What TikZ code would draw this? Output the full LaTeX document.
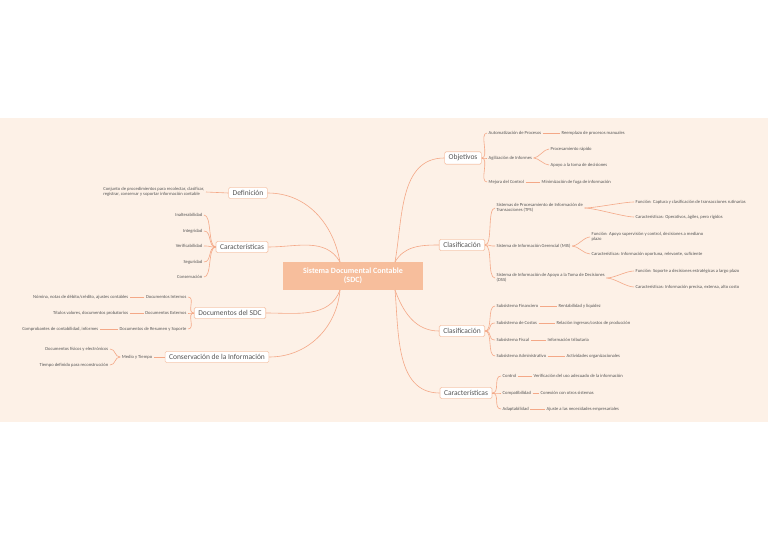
\documentclass[tikz,border=0pt]{standalone}
\usepackage{fontspec}
\setmainfont{Carlito}
\definecolor{band}{HTML}{FDF1E7}
\definecolor{ln}{HTML}{F4A887}
\definecolor{bd}{HTML}{F6C6AC}
\definecolor{ctr}{HTML}{F7BE9C}
\definecolor{tx}{HTML}{555555}
\tikzset{
 br/.style={draw=bd,fill=white,rounded corners=1.5pt,font=\fontsize{7.5}{8}\selectfont,text=tx,inner xsep=4pt,inner ysep=3pt,line width=0.6pt},
 lf/.style={font=\fontsize{4.6}{5.2}\selectfont,text=tx,inner sep=1.5pt,align=left},
 con/.style={draw=ln,line width=0.6pt},
}
\begin{document}
\begin{tikzpicture}[x=1pt,y=-1pt]
\useasboundingbox (0,0) rectangle (768,543);
\fill[white] (0,0) rectangle (768,543);
\fill[band] (0,118) rectangle (768,422);
\node[fill=ctr,text=white,font=\fontsize{8}{9}\selectfont\bfseries,align=center,minimum width=140,minimum height=28,inner sep=1pt] (c) at (353,276) {Sistema Documental Contable\\(SDC)};
% left branches
\node[br] (def) at (248,193) {Definición};
\node[br] (car) at (242,247) {Características};
\node[br] (doc) at (230,313) {Documentos del SDC};
\node[br] (con) at (217,357) {Conservación de la Información};
% right branches
\node[br] (obj) at (463,158) {Objetivos};
\node[br] (cl1) at (462,245) {Clasificación};
\node[br] (cl2) at (462,331) {Clasificación};
\node[br] (car2) at (466,393) {Características};
\coordinate (cl) at (340,262); \coordinate (clb) at (340,290);
\coordinate (cr) at (395,262); \coordinate (crb) at (395,290);
\draw[con] (cl) to[out=100,in=0] (def.east);
\draw[con] (cl) to[out=120,in=0] (car.east);
\draw[con] (clb) to[out=250,in=0] (doc.east);
\draw[con] (clb) to[out=265,in=0] (con.east);
\draw[con] (cr) to[out=80,in=180] (obj.west);
\draw[con] (cr) to[out=60,in=180] (cl1.west);
\draw[con] (crb) to[out=290,in=180] (cl2.west);
\draw[con] (crb) to[out=275,in=180] (car2.west);
% Definicion
\node[lf,anchor=east] (d1) at (206,192) {Conjunto de procedimientos para recolectar, clasificar,\\registrar, conservar y soportar información contable};
\draw[con] (def.west) -- (d1.east);
% Caracteristicas left
\foreach \t/\y [count=\i] in {Inalterabilidad/215,Integridad/231,Verificabilidad/246,Seguridad/262,Conservación/277}{
 \node[lf,anchor=east] (k\i) at (204,\y) {\t};
 \draw[con] (car.west) .. controls +(-8,0) and +(8,0) .. (k\i.east);
}
% Documentos
\node[lf,anchor=east] (di) at (188,297) {Documentos Internos};
\node[lf,anchor=east] (de) at (188,313) {Documentos Externos};
\node[lf,anchor=east] (dr) at (188,329) {Documentos de Resumen y Soporte};
\foreach \n in {di,de,dr}{\draw[con] (doc.west) .. controls +(-8,0) and +(8,0) .. (\n.east);}
\node[lf,anchor=east] (di1) at (130,297) {Nómina, notas de débito/crédito, ajustes contables};
\node[lf,anchor=east] (de1) at (130,313) {Títulos valores, documentos probatorios};
\node[lf,anchor=east] (dr1) at (100,329) {Comprobantes de contabilidad, informes};
\draw[con] (di.west) -- (di1.east); \draw[con] (de.west) -- (de1.east); \draw[con] (dr.west) -- (dr1.east);
% Conservacion
\node[lf,anchor=east] (mt) at (154,357) {Medio y Tiempo};
\draw[con] (con.west) -- (mt.east);
\node[lf,anchor=east] (mt1) at (110,349) {Documentos físicos y electrónicos};
\node[lf,anchor=east] (mt2) at (110,365) {Tiempo definido para reconstrucción};
\foreach \n in {mt1,mt2}{\draw[con] (mt.west) .. controls +(-6,0) and +(6,0) .. (\n.east);}
% Objetivos
\node[lf,anchor=west] (o1) at (487,133) {Automatización de Procesos};
\node[lf,anchor=west] (o2) at (487,158) {Agilización de Informes};
\node[lf,anchor=west] (o3) at (487,182) {Mejora del Control};
\foreach \n in {o1,o2,o3}{\draw[con] (obj.east) .. controls +(8,0) and +(-8,0) .. (\n.west);}
\node[lf,anchor=west] (o11) at (560,133) {Reemplazo de procesos manuales};
\draw[con] (o1.east) -- (o11.west);
\node[lf,anchor=west] (o21) at (549,149) {Procesamiento rápido};
\node[lf,anchor=west] (o22) at (549,165) {Apoyo a la toma de decisiones};
\foreach \n in {o21,o22}{\draw[con] (o2.east) .. controls +(5,0) and +(-5,0) .. (\n.west);}
\node[lf,anchor=west] (o31) at (540,182) {Minimización de fuga de información};
\draw[con] (o3.east) -- (o31.west);
% Clasificacion 1
\node[lf,anchor=west] (t) at (495,208) {Sistemas de Procesamiento de Información de\\Transacciones (TPS)};
\node[lf,anchor=west] (m) at (495,246) {Sistema de Información Gerencial (MIS)};
\node[lf,anchor=west] (s) at (495,278) {Sistema de Información de Apoyo a la Toma de Decisiones\\(DSS)};
\foreach \n in {t,m,s}{\draw[con] (cl1.east) .. controls +(8,0) and +(-8,0) .. (\n.west);}
\node[lf,anchor=west] (t1) at (634,202) {Función: Captura y clasificación de transacciones rutinarias};
\node[lf,anchor=west] (t2) at (634,217) {Características: Operativos, ágiles, pero rígidos};
\node[lf,anchor=west] (m1) at (590,237) {Función: Apoyo supervisión y control, decisiones a mediano\\plazo};
\node[lf,anchor=west] (m2) at (590,254) {Características: Información oportuna, relevante, suficiente};
\node[lf,anchor=west] (s1) at (634,271) {Función: Soporte a decisiones estratégicas a largo plazo};
\node[lf,anchor=west] (s2) at (634,287) {Características: Información precisa, extensa, alto costo};
\foreach \n in {t1,t2}{\draw[con] (t.east) .. controls +(10,0) and +(-10,0) .. (\n.west);}
\foreach \n in {m1,m2}{\draw[con] (m.east) .. controls +(6,0) and +(-6,0) .. (\n.west);}
\foreach \n in {s1,s2}{\draw[con] (s.east) .. controls +(8,0) and +(-8,0) .. (\n.west);}
% Clasificacion 2
\foreach \a/\b/\y/\x [count=\i] in {Subsistema Financiero/Rentabilidad y liquidez/306/557,Subsistema de Costos/{Relación ingresos/costos de producción}/323/555,Subsistema Fiscal/Información tributaria/340/546,Subsistema Administrativo/Actividades organizacionales/356/565}{
 \node[lf,anchor=west] (p\i) at (495,\y) {\a};
 \node[lf,anchor=west] (q\i) at (\x,\y) {\b};
 \draw[con] (cl2.east) .. controls +(8,0) and +(-8,0) .. (p\i.west);
 \draw[con] (p\i.east) -- (q\i.west);
}
% Caracteristicas right
\foreach \a/\b/\y/\x [count=\i] in {Control/Verificación del uso adecuado de la información/376/532,Compatibilidad/Conexión con otros sistemas/393/539,Adaptabilidad/Ajuste a las necesidades empresariales/409/545}{
 \node[lf,anchor=west] (u\i) at (501,\y) {\a};
 \node[lf,anchor=west] (v\i) at (\x,\y) {\b};
 \draw[con] (car2.east) .. controls +(8,0) and +(-8,0) .. (u\i.west);
 \draw[con] (u\i.east) -- (v\i.west);
}
\end{tikzpicture}
\end{document}
